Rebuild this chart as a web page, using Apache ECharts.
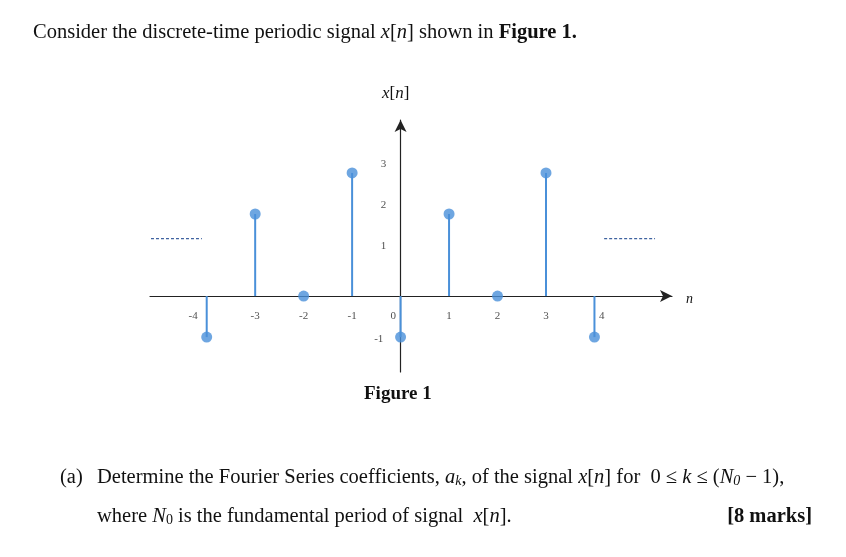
<!DOCTYPE html>
<html>
<head>
<meta charset="utf-8">
<script src="https://cdn.jsdelivr.net/npm/echarts@6/dist/echarts.min.js"></script>
<style>
  html, body { margin: 0; padding: 0; background: #fff; }
  #chart { width: 846px; height: 557px; }
</style>
</head>
<body>
<div id="chart"></div>
<script>
// signal samples
const nValues = [-4, -3, -2, -1, 0, 1, 2, 3, 4];
const xValues = [-1, 2, 0, 3, -1, 2, 0, 3, -1];
// tick labels
const nTicks = ['-4', '-3', '-2', '-1', '0', '1', '2', '3', '4'];
const yTicks = [1, 2, 3, -1];
// dashed "continues" marks
const dashLeft = [[-5.15, 1.4], [-4.1, 1.4]];
const dashRight = [[4.2, 1.4], [5.25, 1.4]];

const blue = '#4a90d9';
const serif = '"Liberation Serif", "DejaVu Serif", serif';
const fs = 20.5;

let myChart = echarts.init(document.getElementById('chart'));

let option = {
  animation: false,
  grid: { left: 150, right: 174, top: 120, bottom: 185 },
  xAxis: {
    type: 'value', min: -5.17, max: 5.6,
    axisLine: { onZero: true, symbol: ['none', 'arrow'], symbolSize: [9, 12], lineStyle: { color: '#222', width: 1.2 } },
    axisTick: { show: false }, axisLabel: { show: false }, splitLine: { show: false }
  },
  yAxis: {
    type: 'value', min: -1.85, max: 4.29,
    axisLine: { onZero: true, symbol: ['none', 'arrow'], symbolSize: [9, 12], lineStyle: { color: '#222', width: 1.2 } },
    axisTick: { show: false }, axisLabel: { show: false }, splitLine: { show: false }
  },
  series: [
    {
      type: 'bar', barWidth: 2,
      data: nValues.map((n, i) => [n, xValues[i]]),
      itemStyle: { color: blue }
    },
    {
      type: 'scatter', symbolSize: 11,
      data: nValues.map((n, i) => [n, xValues[i]]),
      itemStyle: { color: blue }, z: 5
    },
    {
      type: 'scatter', symbolSize: 0, silent: true,
      data: nValues.map((n, i) => ({
        value: [n + (n === -4 ? -0.28 : n === 4 ? 0.15 : n === 0 ? -0.15 : 0), -0.5],
        label: { show: true, formatter: nTicks[i], position: 'inside', fontFamily: serif, fontSize: 11, color: '#222' }
      }))
    },
    {
      type: 'scatter', symbolSize: 0, silent: true,
      data: yTicks.map(v => ({
        value: [v < 0 ? -0.45 : -0.35, v < 0 ? v - 0.05 : v + 0.22],
        label: { show: true, formatter: String(v), position: 'inside', fontFamily: serif, fontSize: 11, color: '#222' }
      }))
    },
    { type: 'line', data: dashLeft, symbol: 'none', lineStyle: { color: '#3f63a0', width: 1.2, type: [3, 2] } },
    { type: 'line', data: dashRight, symbol: 'none', lineStyle: { color: '#3f63a0', width: 1.2, type: [3, 2] } }
  ],
  graphic: [
    { type: 'text', left: 33, top: 22, style: {
      text: '{r|Consider the discrete-time periodic signal }{i|x}{r|[}{i|n}{r|] shown in }{b|Figure 1.}',
      rich: { r: { fontFamily: serif, fontSize: fs, fill: '#111' }, i: { fontFamily: serif, fontSize: fs, fontStyle: 'italic', fill: '#111' }, b: { fontFamily: serif, fontSize: fs, fontWeight: 'bold', fill: '#111' } } } },
    { type: 'text', left: 382, top: 85, style: {
      text: '{i|x}{r|[}{i|n}{r|]}',
      rich: { r: { fontFamily: serif, fontSize: 17, fill: '#111' }, i: { fontFamily: serif, fontSize: 17, fontStyle: 'italic', fill: '#111' } } } },
    { type: 'text', left: 686, top: 292, style: { text: 'n', fontFamily: serif, fontSize: 14, fontStyle: 'italic', fill: '#111' } },
    { type: 'text', left: 364, top: 385, style: { text: 'Figure 1', fontFamily: serif, fontSize: 19, fontWeight: 'bold', fill: '#111' } },
    { type: 'text', left: 60, top: 467, style: { text: '(a)', fontFamily: serif, fontSize: fs, fill: '#111' } },
    { type: 'text', left: 97, top: 467, style: {
      text: '{r|Determine the Fourier Series coefficients, }{i|a}{s|k}{r|, of the signal }{i|x}{r|[}{i|n}{r|] for  0 ≤ }{i|k}{r| ≤ (}{i|N}{s|0}{r| − 1),}',
      rich: { r: { fontFamily: serif, fontSize: fs, fill: '#111' }, i: { fontFamily: serif, fontSize: fs, fontStyle: 'italic', fill: '#111' }, s: { fontFamily: serif, fontSize: 14, fontStyle: 'italic', fill: '#111', padding: [8, 0, 0, 0] } } } },
    { type: 'text', left: 97, top: 506, style: {
      text: '{r|where }{i|N}{s|0}{r| is the fundamental period of signal  }{i|x}{r|[}{i|n}{r|].}',
      rich: { r: { fontFamily: serif, fontSize: fs, fill: '#111' }, i: { fontFamily: serif, fontSize: fs, fontStyle: 'italic', fill: '#111' }, s: { fontFamily: serif, fontSize: 14, fill: '#111', padding: [8, 0, 0, 0] } } } },
    { type: 'text', right: 34, top: 506, style: { text: '[8 marks]', fontFamily: serif, fontSize: fs, fontWeight: 'bold', fill: '#111' } }
  ]
};

option && myChart.setOption(option);
</script>
</body>
</html>
